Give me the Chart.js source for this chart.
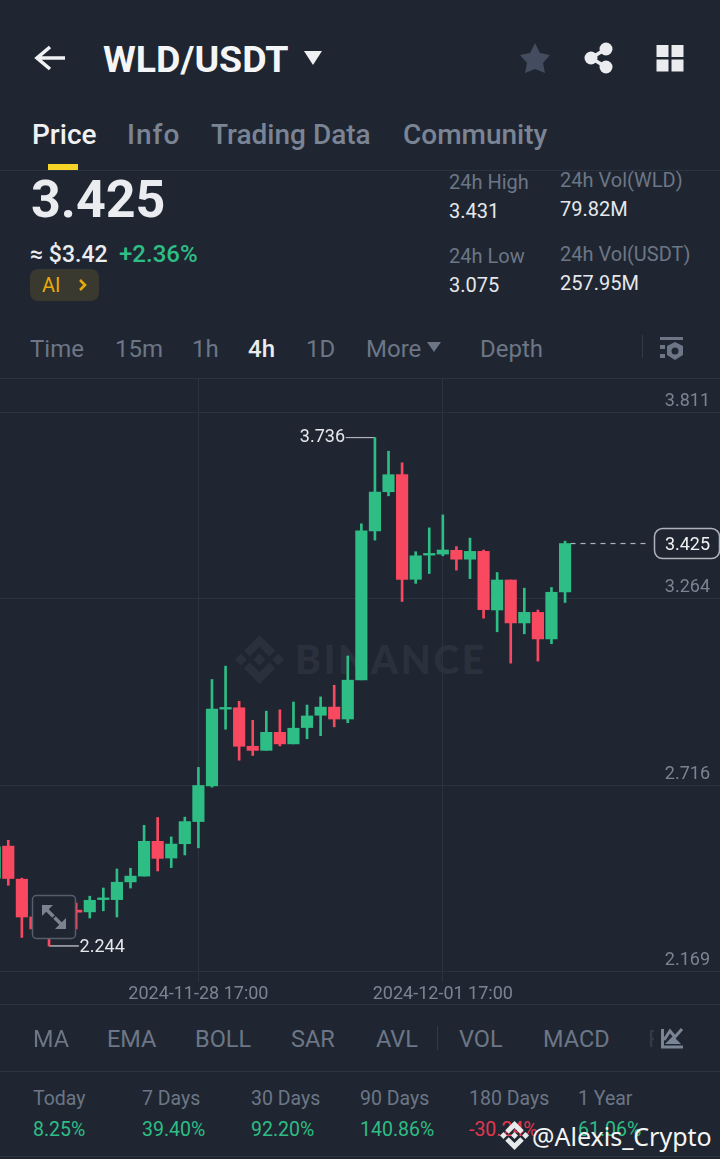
<!DOCTYPE html>
<html>
<head>
<meta charset="utf-8">
<title>WLD/USDT</title>
<script src="https://cdn.jsdelivr.net/npm/chart.js@4"></script>
<style>
  html, body { margin: 0; padding: 0; background: #1f2631; }
  #page { position: relative; width: 720px; height: 1159px; overflow: hidden; background: #1f2631; font-family: Roboto, sans-serif; }
  #chartBox { position: absolute; left: 0; top: 378px; width: 720px; height: 625px; }
  .t { position: absolute; white-space: nowrap; line-height: 1; transform: translateY(-50%); }
  .line { position: absolute; left: 0; width: 720px; height: 1px; background: #2c3340; }
  svg.abs { position: absolute; overflow: visible; }
  .tab { font-size: 28px; font-weight: 500; color: #7b8494; }
  .stat { font-size: 20px; color: #6c7686; }
  .val { font-size: 20px; color: #e6e8ec; }
  .tf { font-size: 24px; color: #6c7686; }
  .ind { font-size: 23.5px; color: #6c7686; }
  .per { font-size: 19.5px; color: #6c7686; }
  .pv { font-size: 19.5px; color: #2ebd85; }
</style>
</head>
<body>
<div id="page">
  <svg width="0" height="0" style="position:absolute">
    <symbol id="bnb" viewBox="0 0 100 100">
      <polygon points="50,38 62,50 50,62 38,50"/>
      <polygon points="0,50 12,38 24,50 12,62"/>
      <polygon points="88,38 100,50 88,62 76,50"/>
      <polygon points="50,0 82,32 70,44 50,24 30,44 18,32"/>
      <polygon points="50,100 82,68 70,56 50,76 30,56 18,68"/>
    </symbol>
  </svg>

  <!-- header -->
  <svg class="abs" style="left:0;top:0" width="720" height="100">
    <path d="M65 58H38M50 47L37 58L50 69" fill="none" stroke="#f0f1f3" stroke-width="3.6"/>
    <polygon points="304,51 322,51 313,65" fill="#f0f1f3"/>
    <polygon points="535,43 540,53 550,55 543,63 545,73 535,69 525,73 527,63 520,55 530,53" fill="#434d5f"/>
    <path d="M606 49L591 58L606 67" fill="none" stroke="#eaecef" stroke-width="3.6"/>
    <circle cx="606" cy="49" r="6.5" fill="#eaecef"/>
    <circle cx="591" cy="58" r="6.5" fill="#eaecef"/>
    <circle cx="606" cy="67" r="6.5" fill="#eaecef"/>
    <rect x="656.500" y="45" width="12" height="12" fill="#eaecef"/>
    <rect x="671.500" y="45" width="12" height="12" fill="#eaecef"/>
    <rect x="656.500" y="59.500" width="12" height="12" fill="#eaecef"/>
    <rect x="671.500" y="59.500" width="12" height="12" fill="#eaecef"/>
  </svg>
  <div class="t" style="left:103px;top:60px;font-size:37.5px;font-weight:700;color:#f4f5f7">WLD/USDT</div>

  <div class="t tab" style="left:32px;top:135px;color:#f0f1f3">Price</div>
  <div class="t tab" style="left:127px;top:135px;letter-spacing:1px">Info</div>
  <div class="t tab" style="left:211px;top:135px">Trading Data</div>
  <div class="t tab" style="left:403px;top:135px">Community</div>
  <div style="position:absolute;left:48px;top:164px;width:30px;height:6px;background:#f5d327"></div>
  <div class="line" style="top:170px"></div>

  <!-- price block -->
  <div class="t" style="left:31px;top:200px;font-size:52px;font-weight:700;color:#eaecef">3.425</div>
  <div class="t" style="left:30px;top:254px;font-size:23px;font-weight:500;color:#eaecef">≈ $3.42</div>
  <div class="t" style="left:119px;top:254px;font-size:24px;font-weight:500;color:#2ebd85">+2.36%</div>
  <div style="position:absolute;left:30px;top:269px;width:69px;height:32px;border-radius:8px;background:#3a3930"></div>
  <div class="t" style="left:42px;top:285px;font-size:20px;color:#e8a90c">AI</div>
  <svg class="abs" style="left:0;top:0" width="100" height="300">
    <path d="M80 280L85 285L80 290" fill="none" stroke="#e8a90c" stroke-width="2.6"/>
  </svg>

  <div class="t stat" style="left:449px;top:182px">24h High</div>
  <div class="t val" style="left:449px;top:211px">3.431</div>
  <div class="t stat" style="left:560px;top:180px">24h Vol(WLD)</div>
  <div class="t val" style="left:560px;top:209px">79.82M</div>
  <div class="t stat" style="left:449px;top:256px">24h Low</div>
  <div class="t val" style="left:449px;top:285px">3.075</div>
  <div class="t stat" style="left:560px;top:254px">24h Vol(USDT)</div>
  <div class="t val" style="left:560px;top:283px">257.95M</div>

  <!-- timeframe row -->
  <div class="t tf" style="left:30px;top:349px">Time</div>
  <div class="t tf" style="left:115px;top:349px">15m</div>
  <div class="t tf" style="left:192px;top:349px">1h</div>
  <div class="t tf" style="left:248px;top:349px;color:#eaecef;font-weight:500">4h</div>
  <div class="t tf" style="left:306px;top:349px">1D</div>
  <div class="t tf" style="left:366px;top:349px">More</div>
  <div class="t tf" style="left:480px;top:349px">Depth</div>
  <svg class="abs" style="left:0;top:0" width="720" height="378">
    <polygon points="427,342 441,342 434,352" fill="#6c7686"/>
    <rect x="642" y="335" width="1" height="23" fill="#343b48"/>
    <rect x="660" y="337" width="23" height="3" fill="#6c7686"/>
    <rect x="660" y="345" width="5" height="4" fill="#6c7686"/>
    <rect x="660" y="354" width="5" height="4" fill="#6c7686"/>
    <polygon points="675,342 683,346 683,355 675,360 667,355 667,346" fill="#6c7686"/>
    <circle cx="675" cy="351" r="3.500" fill="#1f2631"/>
  </svg>
  <div class="line" style="top:378px"></div>

  <!-- watermark sits behind the chart canvas -->
  <svg class="abs" style="left:235px;top:635px;fill:#2a313d" width="49" height="49"><use href="#bnb"/></svg>
  <div class="t" style="left:295px;top:659px;font-family:Lato,sans-serif;font-size:39px;font-weight:900;letter-spacing:2.600px;color:#2a313d">BINANCE</div>

  <div id="chartBox"><canvas id="klineChart" width="720" height="625"></canvas></div>

  <!-- expand button -->
  <svg class="abs" style="left:0;top:0" width="100" height="960">
    <rect x="32.500" y="895.500" width="43" height="43" rx="4" fill="#1f2631" stroke="#565e6b" stroke-width="1.5"/>
    <polygon points="42,905 53,905 42,916" fill="#7b8290"/>
    <path d="M45 908L53.500 916.500" stroke="#7b8290" stroke-width="3.6"/>
    <polygon points="66,929 55,929 66,918" fill="#7b8290"/>
    <path d="M63 926L54.500 917.500" stroke="#7b8290" stroke-width="3.6"/>
  </svg>

  <!-- indicator row -->
  <div class="line" style="top:1004px"></div>
  <div class="t ind" style="left:33px;top:1040px">MA</div>
  <div class="t ind" style="left:107px;top:1040px">EMA</div>
  <div class="t ind" style="left:195px;top:1040px">BOLL</div>
  <div class="t ind" style="left:291px;top:1040px">SAR</div>
  <div class="t ind" style="left:376px;top:1040px">AVL</div>
  <div class="t ind" style="left:459px;top:1040px">VOL</div>
  <div class="t ind" style="left:543px;top:1040px">MACD</div>
  <div class="t ind" style="left:648px;top:1040px;color:#343b48;width:6px;overflow:hidden">R</div>
  <svg class="abs" style="left:0;top:0" width="720" height="1060">
    <rect x="437" y="1026" width="1" height="24" fill="#343b48"/>
    <path d="M662.500 1029V1047H683" fill="none" stroke="#7b8494" stroke-width="3"/>
    <path d="M664 1040L670 1031L675 1037L682 1029" fill="none" stroke="#7b8494" stroke-width="3"/>
    <polygon points="665,1044 681,1044 673,1036" fill="#7b8494"/>
  </svg>
  <div class="line" style="top:1071px"></div>

  <!-- performance row -->
  <div class="t per" style="left:33px;top:1099px">Today</div>
  <div class="t per" style="left:142px;top:1099px">7 Days</div>
  <div class="t per" style="left:251px;top:1099px">30 Days</div>
  <div class="t per" style="left:360px;top:1099px">90 Days</div>
  <div class="t per" style="left:469px;top:1099px">180 Days</div>
  <div class="t per" style="left:578px;top:1099px">1 Year</div>
  <div class="t pv" style="left:33px;top:1130px">8.25%</div>
  <div class="t pv" style="left:142px;top:1130px">39.40%</div>
  <div class="t pv" style="left:251px;top:1130px">92.20%</div>
  <div class="t pv" style="left:360px;top:1130px">140.86%</div>
  <div class="t pv" style="left:469px;top:1130px;color:#e0374f">-30.24%</div>
  <div class="t pv" style="left:578px;top:1130px">61.06%</div>
  <div class="line" style="top:1156px"></div>

  <!-- author stamp over the bottom row -->
  <svg class="abs" style="left:500px;top:1121px;fill:#e8e9ea" width="29" height="29"><use href="#bnb"/></svg>
  <div class="t" style="left:532px;top:1136px;font-family:'Noto Sans',sans-serif;font-size:25px;color:#f5f5f5">@Alexis_Crypto</div>
</div>

<script>
// 4h candles, oldest first
const opens = [2.443, 2.537, 2.440, 2.329, 2.294, 2.284, 2.349, 2.344, 2.380, 2.380, 2.432, 2.449, 2.551, 2.502, 2.544, 2.609, 2.714, 2.939, 2.943, 2.830, 2.818, 2.871, 2.837, 2.885, 2.921, 2.945, 2.910, 3.025, 3.462, 3.577, 3.627, 3.320, 3.391, 3.394, 3.405, 3.379, 3.402, 3.230, 3.318, 3.192, 3.223, 3.145, 3.283];
const highs = [2.540, 2.554, 2.443, 2.343, 2.300, 2.335, 2.370, 2.390, 2.414, 2.470, 2.472, 2.598, 2.621, 2.564, 2.622, 2.768, 3.026, 3.065, 2.962, 2.906, 2.933, 2.937, 2.960, 2.951, 2.975, 3.009, 3.095, 3.483, 3.736, 3.696, 3.662, 3.401, 3.471, 3.509, 3.416, 3.441, 3.406, 3.340, 3.318, 3.294, 3.230, 3.296, 3.432];
const lows = [2.437, 2.422, 2.269, 2.287, 2.244, 2.270, 2.294, 2.326, 2.347, 2.329, 2.414, 2.449, 2.464, 2.474, 2.511, 2.532, 2.710, 2.880, 2.789, 2.803, 2.818, 2.831, 2.837, 2.852, 2.861, 2.887, 2.899, 3.025, 3.435, 3.565, 3.255, 3.308, 3.337, 3.389, 3.347, 3.322, 3.206, 3.166, 3.074, 3.160, 3.080, 3.131, 3.252];
const closes = [2.535, 2.442, 2.329, 2.294, 2.278, 2.317, 2.343, 2.378, 2.385, 2.431, 2.449, 2.551, 2.501, 2.543, 2.609, 2.715, 2.939, 2.944, 2.830, 2.818, 2.871, 2.837, 2.883, 2.919, 2.945, 2.910, 3.024, 3.462, 3.576, 3.627, 3.320, 3.389, 3.396, 3.406, 3.379, 3.402, 3.231, 3.318, 3.192, 3.223, 3.145, 3.282, 3.425];

const priceTicks = [3.811, 3.264, 2.716, 2.169];
const dateTickIndexes = [15, 33];
const dateTickLabels = ['2024-11-28 17:00', '2024-12-01 17:00'];

const lastPrice = 3.425;
const highPrice = 3.736;
const highIndex = 28;
const lowPrice = 2.244;
const lowIndex = 4;

const green = '#2ebd85';
const red = '#f84960';
const gridColor = '#2c3340';

const candleColors = opens.map((o, i) => (closes[i] >= o ? green : red));

// High, low and last price tags drawn from the scales
const priceTags = {
  id: 'priceTags',
  afterDatasetsDraw(chart) {
    const { ctx, scales: { x, y } } = chart;
    ctx.save();
    ctx.font = '18px Roboto';
    ctx.fillStyle = '#e6e8ec';
    ctx.textBaseline = 'middle';
    ctx.textAlign = 'right';
    ctx.fillText(highPrice.toFixed(3), x.getPixelForValue(highIndex - 2.2), y.getPixelForValue(highPrice));
    ctx.textAlign = 'left';
    ctx.fillText(lowPrice.toFixed(3), x.getPixelForValue(lowIndex + 2.25), y.getPixelForValue(lowPrice) + 2);

    // last price box
    const boxY = y.getPixelForValue(lastPrice);
    ctx.beginPath();
    ctx.roundRect(654.5, boxY - 15, 65, 30, 8);
    ctx.fillStyle = '#1f2631';
    ctx.fill();
    ctx.strokeStyle = '#aeb3bc';
    ctx.lineWidth = 1.5;
    ctx.stroke();
    ctx.fillStyle = '#f0f1f3';
    ctx.textAlign = 'center';
    ctx.fillText(lastPrice.toFixed(3), 687.5, boxY + 2);
    ctx.restore();
  }
};

new Chart(document.getElementById('klineChart'), {
  data: {
    datasets: [
      {
        type: 'bar',
        grouped: false,
        data: lows.map((l, i) => ({ x: i, y: [l, highs[i]] })),
        backgroundColor: candleColors,
        barThickness: 2
      },
      {
        type: 'bar',
        grouped: false,
        data: opens.map((o, i) => ({ x: i, y: [o, closes[i]] })),
        backgroundColor: candleColors,
        barThickness: 11.5
      },
      {
        type: 'line',
        data: [{ x: opens.length - 0.6, y: lastPrice }, { x: 48.1, y: lastPrice }],
        borderColor: '#aeb3bc',
        borderWidth: 1.2,
        borderDash: [5, 5],
        pointRadius: 0
      },
      {
        type: 'line',
        data: [{ x: highIndex, y: highPrice }, { x: highIndex - 2.15, y: highPrice }],
        borderColor: '#aeb3bc',
        borderWidth: 1.2,
        pointRadius: 0
      },
      {
        type: 'line',
        data: [{ x: lowIndex, y: lowPrice }, { x: lowIndex + 2.2, y: lowPrice }],
        borderColor: '#cfd2d8',
        borderWidth: 1.2,
        pointRadius: 0
      }
    ]
  },
  plugins: [priceTags],
  options: {
    responsive: false,
    animation: false,
    layout: { padding: 0 },
    plugins: {
      legend: { display: false },
      tooltip: { enabled: false }
    },
    scales: {
      x: {
        type: 'linear',
        offset: false,
        min: 0.39,
        max: 53.41,
        grid: { offset: false, color: gridColor, drawTicks: false },
        border: { display: false },
        afterBuildTicks: (scale) => {
          scale.ticks = dateTickIndexes.map((v) => ({ value: v }));
        },
        afterFit: (scale) => {
          scale.height = 21;
          scale.paddingLeft = 0;
          scale.paddingRight = 0;
        },
        ticks: {
          autoSkip: false,
          maxRotation: 0,
          padding: 2,
          color: '#7b8494',
          font: { family: 'Roboto', size: 18 },
          callback: (value) => dateTickLabels[dateTickIndexes.indexOf(value)]
        }
      },
      y: {
        type: 'linear',
        position: 'right',
        min: 2.1382,
        max: 3.9108,
        grid: { color: gridColor, drawTicks: false },
        border: { display: false },
        afterBuildTicks: (scale) => {
          scale.ticks = priceTicks.map((v) => ({ value: v }));
        },
        afterFit: (scale) => {
          scale.width = 0;
          scale.paddingTop = 0;
          scale.paddingBottom = 0;
        },
        ticks: {
          mirror: true,
          padding: -10,
          labelOffset: -11,
          color: '#7b8494',
          font: { family: 'Roboto', size: 18 },
          callback: (value) => value.toFixed(3)
        }
      }
    }
  }
});
</script>
</body>
</html>
